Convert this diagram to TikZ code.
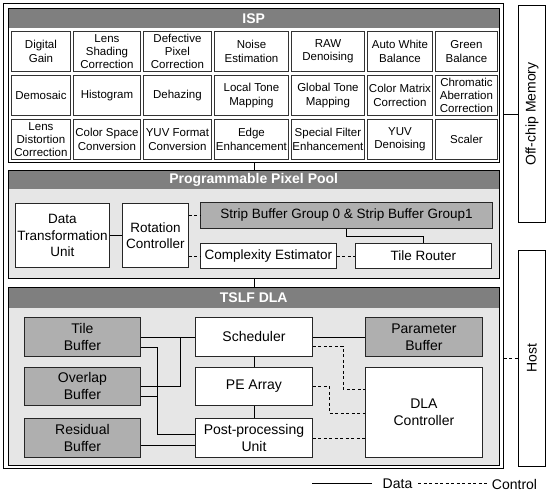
\documentclass[tikz,border=0pt]{standalone}
\usepackage{fontspec}
\setmainfont{Liberation Sans}
\definecolor{hdrgray}{HTML}{7F7F7F}
\definecolor{bodygray}{HTML}{E6E6E6}
\definecolor{bufgray}{HTML}{AFAFAF}
\tikzset{
  chipframe/.style={draw, line width=0.9pt},
  section/.style={draw, line width=1.4pt, fill=bodygray},
  whitesection/.style={section, fill=white},
  hdrband/.style={fill=hdrgray, text=white, inner sep=0pt, font=\bfseries\fontsize{14}{16}\selectfont},
  cell/.style={draw=black!80, line width=0.9pt, fill=white, align=center, inner sep=0pt, font=\fontsize{11.5}{13.3}\selectfont},
  pbox/.style={draw=black!85, line width=0.9pt, fill=white, align=center, inner sep=0pt, font=\fontsize{13.5}{16.5}\selectfont},
  dbox/.style={pbox, font=\fontsize{14}{17}\selectfont},
  gbox/.style={pbox, fill=bufgray},
  gdbox/.style={dbox, fill=bufgray},
  sidebox/.style={draw, line width=0.9pt, fill=white},
  sidelabel/.style={rotate=90, font=\fontsize{14}{16}\selectfont},
  datalink/.style={line width=0.8pt},
  ctrllink/.style={line width=0.8pt, dash pattern=on 3pt off 2.5pt},
  legendtext/.style={font=\fontsize{14}{16}\selectfont, inner sep=0pt}
}
% name, style, x1, y1, x2, y2, text
\newcommand{\bx}[7]{\node[#2, anchor=north west, minimum width={#5-#3}, minimum height={#6-#4}] (#1) at (#3,#4) {#7};}
\begin{document}
\begin{tikzpicture}[x=1pt, y=-1pt]
\useasboundingbox (0,0) rectangle (549,499);

% outer chip frame
\bx{chip}{chipframe}{3}{3}{503}{468}{}

% ---------------- ISP ----------------
\bx{isp}{whitesection}{8}{8}{499}{162}{}
\bx{isph}{hdrband}{8.7}{8.7}{498.3}{28}{ISP}
\bx{c11}{cell}{11}{31}{70}{71}{Digital\\Gain}
\bx{c12}{cell}{73}{31}{140}{71}{Lens\\Shading\\Correction}
\bx{c13}{cell}{143}{31}{211}{71}{Defective\\Pixel\\Correction}
\bx{c14}{cell}{214}{31}{288}{71}{Noise\\Estimation}
\bx{c15}{cell}{291}{31}{364}{71}{RAW\\Denoising}
\bx{c16}{cell}{367}{31}{432}{71}{Auto White\\Balance}
\bx{c17}{cell}{435}{31}{497}{71}{Green\\Balance}
\bx{c21}{cell}{11}{75}{70}{115}{Demosaic}
\bx{c22}{cell}{73}{75}{140}{115}{Histogram}
\bx{c23}{cell}{143}{75}{211}{115}{Dehazing}
\bx{c24}{cell}{214}{75}{288}{115}{Local Tone\\Mapping}
\bx{c25}{cell}{291}{75}{364}{115}{Global Tone\\Mapping}
\bx{c26}{cell}{367}{75}{432}{115}{Color Matrix\\Correction}
\bx{c27}{cell}{435}{75}{497}{115}{Chromatic\\Aberration\\Correction}
\bx{c31}{cell}{11}{119}{70}{159}{Lens\\Distortion\\Correction}
\bx{c32}{cell}{73}{119}{140}{159}{Color Space\\Conversion}
\bx{c33}{cell}{143}{119}{211}{159}{YUV Format\\Conversion}
\bx{c34}{cell}{214}{119}{288}{159}{Edge\\Enhancement}
\bx{c35}{cell}{291}{119}{364}{159}{Special Filter\\Enhancement}
\bx{c36}{cell}{367}{119}{432}{159}{YUV\\Denoising}
\bx{c37}{cell}{435}{119}{497}{159}{Scaler}

% ---------------- Programmable Pixel Pool ----------------
\bx{pool}{section}{8}{170}{499}{278}{}
\bx{poolh}{hdrband}{8.7}{170.7}{498.3}{189}{Programmable Pixel Pool}
\bx{dtu}{pbox}{15}{203}{109}{267}{Data\\Transformation\\Unit}
\bx{rc}{pbox}{122}{203}{188}{267}{Rotation\\Controller}
\bx{strip}{gbox}{200}{202}{492}{228}{Strip Buffer Group 0 \& Strip Buffer Group1}
\bx{ce}{pbox}{200}{243}{336}{268}{Complexity Estimator}
\bx{tr}{pbox}{355}{243}{491}{268}{Tile Router}

% ---------------- TSLF DLA ----------------
\bx{dla}{section}{8}{287}{499}{465}{}
\bx{dlah}{hdrband}{8.7}{287.7}{498.3}{308}{TSLF DLA}
\bx{tile}{gdbox}{24}{317}{140}{356}{Tile\\Buffer}
\bx{ov}{gdbox}{24}{367}{140}{405}{Overlap\\Buffer}
\bx{res}{gdbox}{24}{418}{140}{457}{Residual\\Buffer}
\bx{sched}{dbox}{195}{317}{312}{356}{Scheduler}
\bx{pe}{dbox}{195}{367}{312}{405}{PE Array}
\bx{post}{dbox}{195}{418}{312}{457}{Post-processing\\Unit}
\bx{param}{gdbox}{365}{317}{482}{356}{Parameter\\Buffer}
\bx{dlac}{dbox}{365}{367}{482}{457}{DLA\\Controller}

% ---------------- side boxes ----------------
\bx{mem}{sidebox}{518}{5}{545}{222}{}
\node[sidelabel] (memlabel) at (mem.center) {Off-chip Memory};
\bx{host}{sidebox}{518}{250}{545}{466}{}
\node[sidelabel] (hostlabel) at (host.center) {Host};

% ---------------- connectors ----------------
\draw[datalink] (isp.south) -- (pool.north);
\draw[datalink] (pool.south) -- (dla.north);
\draw[datalink] (mem.west -| chip.east) -- (mem.west);
\draw[ctrllink] (host.west -| chip.east) -- (host.west);

% pool
\draw[datalink] (dtu.east) -- (rc.west);
\draw[ctrllink] (rc.east |- strip.west) -- (strip.west);
\draw[ctrllink] (rc.east |- ce.west) -- (ce.west);
\draw[ctrllink] (ce.east) -- (tr.west);
\coordinate (sj) at (346,236);
\coordinate (tj) at (423,236);
\draw[datalink] (strip.south -| sj) -- (sj) -- (tj) -- (tj |- tr.north);

% dla data
\draw[datalink] (tile.east) -- (sched.west);
\coordinate (j1) at (180,386);
\draw[datalink] (ov.east |- j1) -- (j1) |- (sched.west);
\coordinate (j2) at (157,347);
\coordinate (j3) at (157,434);
\coordinate (j4) at (157,396);
\draw[datalink] (tile.east |- j2) -- (j2) -- (j3) -- (post.west |- j3);
\draw[datalink] (ov.east |- j4) -- (j4);
\coordinate (j5) at (160,445);
\draw[datalink] (res.east |- j5) -- (post.west |- j5);
\draw[datalink] (sched.south) -- (pe.north);
\draw[datalink] (pe.south) -- (post.north);
\draw[datalink] (sched.east) -- (param.west);

% dla control
\coordinate (k1) at (343,346);
\coordinate (k2) at (343,389);
\draw[ctrllink] (sched.east |- k1) -- (k1) -- (k2) -- (dlac.west |- k2);
\coordinate (k3) at (329,386);
\coordinate (k4) at (329,413);
\draw[ctrllink] (pe.east |- k3) -- (k3) -- (k4) -- (dlac.west |- k4);
\draw[ctrllink] (post.east) -- (post.east -| dlac.west);

% legend
\node[legendtext] (ldata) at (397.5,484) {Data};
\node[legendtext] (lctrl) at (514.5,484) {Control};
\coordinate (ls) at (312,483);
\coordinate (cs) at (418,483);
\draw[datalink] (ls) -- (ls -| {372,0});
\draw[ctrllink] (cs) -- (cs -| {489,0});
\end{tikzpicture}
\end{document}
